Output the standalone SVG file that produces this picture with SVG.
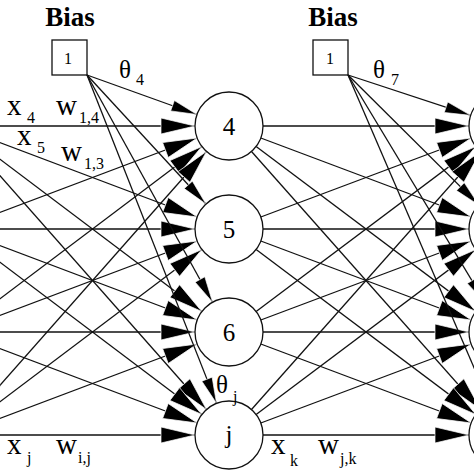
<svg xmlns="http://www.w3.org/2000/svg" width="474" height="474" viewBox="0 0 474 474">
<style>
.c{fill:none;stroke:#111;stroke-width:1.3}
.in{marker-end:url(#ab)}
.bi{marker-end:url(#as)}
.node{fill:#fff;stroke:#111;stroke-width:1.3}
.t{font-family:"Liberation Serif","Times New Roman",serif;fill:#000}
.lbl{font-size:25px;text-anchor:middle}
.big{font-size:29px}
.sub{font-size:16px}
.th{font-size:25px}
.bias{font-size:27px;font-weight:bold;text-anchor:middle}
.one{font-size:16px;text-anchor:middle}
</style>
<defs>
<marker id="ab" markerUnits="userSpaceOnUse" markerWidth="40" markerHeight="20" refX="35" refY="10" orient="auto" overflow="visible"><path d="M1,2 L35,10 L1,18 z" fill="#000" stroke="#fff" stroke-width="0.7"/></marker>
<marker id="as" markerUnits="userSpaceOnUse" markerWidth="30" markerHeight="20" refX="27" refY="10" orient="auto" overflow="visible"><path d="M1,4.5 L27,10 L1,15.5 z" fill="#000" stroke="#fff" stroke-width="0.6"/></marker>
</defs>
<g id="connectors">
<path class="c in" d="M-44,126 L195,126"/>
<path class="c in" d="M-44,126 L197.19,217"/>
<path class="c in" d="M-44,126 L201.86,311.52"/>
<path class="c in" d="M-44,126 L206.49,409.52"/>
<path class="c in" d="M-44,229 L197.19,138"/>
<path class="c in" d="M-44,229 L195,229"/>
<path class="c in" d="M-44,229 L197.19,320"/>
<path class="c in" d="M-44,229 L201.86,414.52"/>
<path class="c in" d="M-44,332 L201.86,146.48"/>
<path class="c in" d="M-44,332 L197.19,241"/>
<path class="c in" d="M-44,332 L195,332"/>
<path class="c in" d="M-44,332 L197.19,423"/>
<path class="c in" d="M-44,435 L206.49,151.48"/>
<path class="c in" d="M-44,435 L201.86,249.48"/>
<path class="c in" d="M-44,435 L197.19,344"/>
<path class="c in" d="M-44,435 L195,435"/>
<path class="c in" d="M263,126 L469,126"/>
<path class="c in" d="M260.81,138 L471.19,217"/>
<path class="c in" d="M256.14,146.48 L475.86,311.52"/>
<path class="c in" d="M251.51,151.48 L480.49,409.52"/>
<path class="c in" d="M260.81,217 L471.19,138"/>
<path class="c in" d="M263,229 L469,229"/>
<path class="c in" d="M260.81,241 L471.19,320"/>
<path class="c in" d="M256.14,249.48 L475.86,414.52"/>
<path class="c in" d="M256.14,311.52 L475.86,146.48"/>
<path class="c in" d="M260.81,320 L471.19,241"/>
<path class="c in" d="M263,332 L469,332"/>
<path class="c in" d="M260.81,344 L471.19,423"/>
<path class="c in" d="M251.51,409.52 L480.49,151.48"/>
<path class="c in" d="M256.14,414.52 L475.86,249.48"/>
<path class="c in" d="M260.81,423 L471.19,344"/>
<path class="c in" d="M263,435 L469,435"/>
<path class="c bi" d="M87,75 L197,114.51"/>
<path class="c bi" d="M87,75 L205.95,204"/>
<path class="c bi" d="M87,75 L212.56,302.24"/>
<path class="c bi" d="M87,75 L216.53,403.37"/>
<path class="c bi" d="M348,75 L470.71,115.37"/>
<path class="c bi" d="M348,75 L478.88,205.04"/>
<path class="c bi" d="M348,75 L485.44,302.88"/>
<path class="c bi" d="M348,75 L489.55,403.77"/>
</g>
<g id="bias1">
<text class="t bias" x="70" y="26">Bias</text>
<rect x="52" y="40" width="35" height="35" fill="#fff" stroke="#111" stroke-width="1.3"/>
<text class="t one" x="68" y="64">1</text>
</g>
<g id="bias2">
<text class="t bias" x="333" y="26">Bias</text>
<rect x="313" y="40" width="35" height="35" fill="#fff" stroke="#111" stroke-width="1.3"/>
<text class="t one" x="330" y="64">1</text>
</g>
<g id="node4"><circle class="node" cx="229" cy="126" r="34"/><text class="t lbl" x="229" y="135">4</text></g>
<g id="node5"><circle class="node" cx="229" cy="229" r="34"/><text class="t lbl" x="229" y="238">5</text></g>
<g id="node6"><circle class="node" cx="229" cy="332" r="34"/><text class="t lbl" x="229" y="341">6</text></g>
<g id="nodej"><circle class="node" cx="229" cy="435" r="34"/><text class="t lbl" x="229" y="443">j</text></g>
<g id="out7"><circle class="node" cx="503" cy="126" r="34"/></g>
<g id="out8"><circle class="node" cx="503" cy="229" r="34"/></g>
<g id="out9"><circle class="node" cx="503" cy="332" r="34"/></g>
<g id="outk"><circle class="node" cx="503" cy="435" r="34"/></g>
<g id="labels">
<text class="t th" x="119" y="78">θ<tspan class="sub" x="136" y="85">4</tspan></text>
<text class="t th" x="373" y="78">θ<tspan class="sub" x="391" y="85">7</tspan></text>
<text class="t th" x="216" y="393">θ<tspan class="sub" x="233" y="402">j</tspan></text>
<text class="t big" x="7" y="115">x<tspan class="sub" x="27" y="123">4</tspan></text>
<text class="t big" x="56" y="115">w<tspan class="sub" x="79" y="123">1,4</tspan></text>
<text class="t big" x="17" y="145">x<tspan class="sub" x="37" y="153">5</tspan></text>
<text class="t big" x="61" y="161">w<tspan class="sub" x="84" y="169">1,3</tspan></text>
<text class="t big" x="7" y="454">x<tspan class="sub" x="27" y="463">j</tspan></text>
<text class="t big" x="56" y="454">w<tspan class="sub" x="78" y="463">i,j</tspan></text>
<text class="t big" x="271" y="454">x<tspan class="sub" x="290" y="466">k</tspan></text>
<text class="t big" x="318" y="454">w<tspan class="sub" x="340" y="464">j,k</tspan></text>
</g>
</svg>
